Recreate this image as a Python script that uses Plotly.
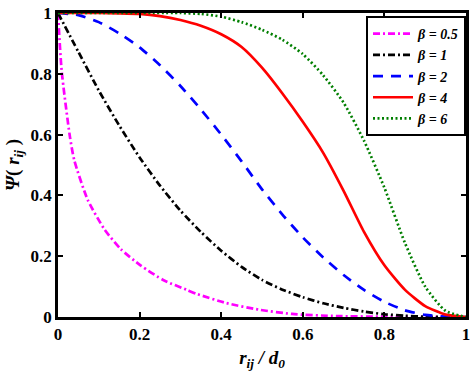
import plotly.graph_objects as go

x_b05 = [0.0, 0.009, 0.029, 0.040, 0.073, 0.114, 0.154, 0.203, 0.259, 0.316, 0.340, 0.412, 0.493, 0.574, 0.683, 0.80, 0.90, 1.0]
y_b05 = [1.0, 0.81, 0.595, 0.515, 0.385, 0.288, 0.223, 0.169, 0.121, 0.089, 0.076, 0.046, 0.024, 0.010, 0.003, 0.001, 0.0, 0.0]

x_b1 = [0.0, 0.05, 0.1, 0.15, 0.2, 0.25, 0.3, 0.35, 0.4, 0.45, 0.5, 0.55, 0.6, 0.65, 0.7, 0.75, 0.8, 0.85, 0.9, 0.95, 1.0]
y_b1 = [1.0, 0.872, 0.745, 0.63, 0.525, 0.432, 0.35, 0.28, 0.218, 0.165, 0.122, 0.09, 0.065, 0.045, 0.03, 0.018, 0.009, 0.004, 0.001, 0.0, 0.0]

x_b2 = [0.0, 0.05, 0.1, 0.15, 0.2, 0.25, 0.3, 0.35, 0.4, 0.45, 0.5, 0.55, 0.6, 0.65, 0.7, 0.75, 0.8, 0.85, 0.9, 0.95, 1.0]
y_b2 = [1.0, 0.993, 0.97, 0.933, 0.887, 0.828, 0.76, 0.683, 0.6, 0.512, 0.42, 0.337, 0.262, 0.196, 0.138, 0.089, 0.05, 0.022, 0.007, 0.001, 0.0]

x_b4 = [0.0, 0.1, 0.15, 0.2, 0.25, 0.3, 0.35, 0.4, 0.45, 0.5, 0.55, 0.6, 0.65, 0.7, 0.75, 0.8, 0.85, 0.9, 0.95, 1.0]
y_b4 = [1.0, 1.0, 0.999, 0.997, 0.99, 0.977, 0.958, 0.93, 0.888, 0.82, 0.735, 0.642, 0.54, 0.415, 0.28, 0.17, 0.09, 0.036, 0.008, 0.0]

x_b6 = [0.0, 0.3, 0.35, 0.4, 0.45, 0.5, 0.55, 0.6, 0.65, 0.7, 0.75, 0.8, 0.85, 0.9, 0.95, 1.0]
y_b6 = [1.0, 1.0, 0.997, 0.988, 0.97, 0.945, 0.912, 0.865, 0.795, 0.705, 0.58, 0.425, 0.245, 0.10, 0.02, 0.0]

x_ticks = [0, 0.2, 0.4, 0.6, 0.8, 1]
y_ticks = [0, 0.2, 0.4, 0.6, 0.8, 1]

series = [
    ("β = 0.5", x_b05, y_b05, "#FF00FF", "7px,3px,2px,3px"),
    ("β = 1", x_b1, y_b1, "#000000", "7px,3px,2px,3px"),
    ("β = 2", x_b2, y_b2, "#0000FF", "10px,8px"),
    ("β = 4", x_b4, y_b4, "#FF0000", "solid"),
    ("β = 6", x_b6, y_b6, "#007F00", "2px,2.5px"),
]

fig = go.Figure()
for name, xs, ys, col, dash in series:
    fig.add_trace(go.Scatter(
        x=xs, y=ys, mode="lines", name="<b><i>" + name + "</i></b>",
        line=dict(color=col, width=2.7, dash=dash, shape="spline", smoothing=0.6),
    ))

font_family = "Liberation Serif, Times New Roman, serif"
axis_common = dict(
    showline=True, linecolor="black", linewidth=2.5, mirror="ticks",
    ticks="inside", ticklen=5, tickwidth=2, tickcolor="black",
    showgrid=False, zeroline=False, ticklabeloverflow="allow",
    tickfont=dict(family=font_family, size=17, color="black", weight="bold"),
)

fig.update_layout(
    width=474, height=377,
    margin=dict(l=58, r=4, t=8, b=60),
    paper_bgcolor="white", plot_bgcolor="white",
    font=dict(family=font_family, color="black"),
    xaxis=dict(range=[0, 1], tickvals=x_ticks, ticktext=[str(v) for v in x_ticks],
               title=dict(text="<b><i>r<sub>ij</sub> / d<sub>0</sub></i></b>",
                          font=dict(family=font_family, size=19), standoff=8),
               **axis_common),
    yaxis=dict(range=[0, 1], tickvals=y_ticks, ticktext=[str(v) for v in y_ticks],
               title=dict(text="<b><i>Ψ</i>( <i>r<sub>ij</sub></i> )</b>",
                          font=dict(family=font_family, size=19), standoff=6),
               **axis_common),
    legend=dict(x=1.0, y=0.99, xanchor="right", yanchor="top",
                bordercolor="black", borderwidth=2, bgcolor="white",
                font=dict(family=font_family, size=14, color="black"),
                tracegroupgap=0, itemwidth=40),
    showlegend=True,
)

fig.write_html("out.html", config={"displayModeBar": False},
               post_script="document.body.style.margin='0px';")
